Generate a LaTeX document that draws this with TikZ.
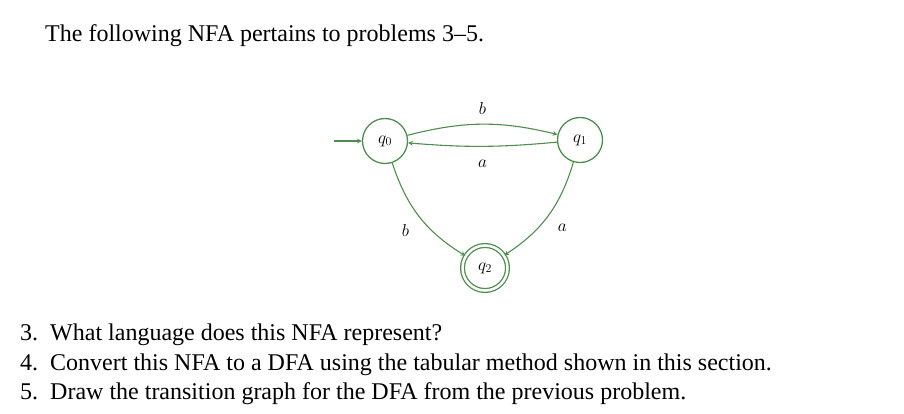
\documentclass[tikz,border=0pt]{standalone}
\usepackage{fontspec}
\setmainfont{Liberation Serif}
\begin{document}
\begin{tikzpicture}[x=1pt,y=-1pt,
  st/.style={circle,draw=gc,line width=1.3pt,minimum size=45pt,inner sep=0pt,font=\fontsize{17}{20}\selectfont},
  acc/.style={st,double,double distance=2.5pt,minimum size=45pt},
  ed/.style={draw=gc,line width=1.1pt,->,>=stealth},
  lb/.style={font=\fontsize{17}{20}\selectfont},
  txt/.style={anchor=base west,inner sep=0pt,font=\fontsize{24}{28}\selectfont}]
\definecolor{gc}{RGB}{80,140,80}
\useasboundingbox (0,0) rectangle (904,414);
\node[txt] (t) at (45,42) {The following NFA pertains to problems 3--5.};
\node[st] (q0) at (385,141) {$q_0$};
\node[st] (q1) at (580,140) {$q_1$};
\node[acc] (q2) at (485,268) {$q_2$};
\coordinate (s) at (334,141);
\draw[ed] (s) -- (q0);
\draw[ed] (q0) to[bend left=14] node[lb,above=6pt] {$b$} (q1);
\draw[ed] (q1) to[bend left=5] node[lb,below=10pt] {$a$} (q0);
\draw[ed] (q0) to[bend right=20] node[lb,xshift=-14pt,yshift=-14pt] {$b$} (q2);
\draw[ed] (q1) to[bend left=20] node[lb,xshift=14pt,yshift=-12pt] {$a$} (q2);
\node[txt] (l3) at (20,340) {3.\ \ What language does this NFA represent?};
\node[txt] (l4) at (20,370) {4.\ \ Convert this NFA to a DFA using the tabular method shown in this section.};
\node[txt] (l5) at (20,399) {5.\ \ Draw the transition graph for the DFA from the previous problem.};
\end{tikzpicture}
\end{document}
